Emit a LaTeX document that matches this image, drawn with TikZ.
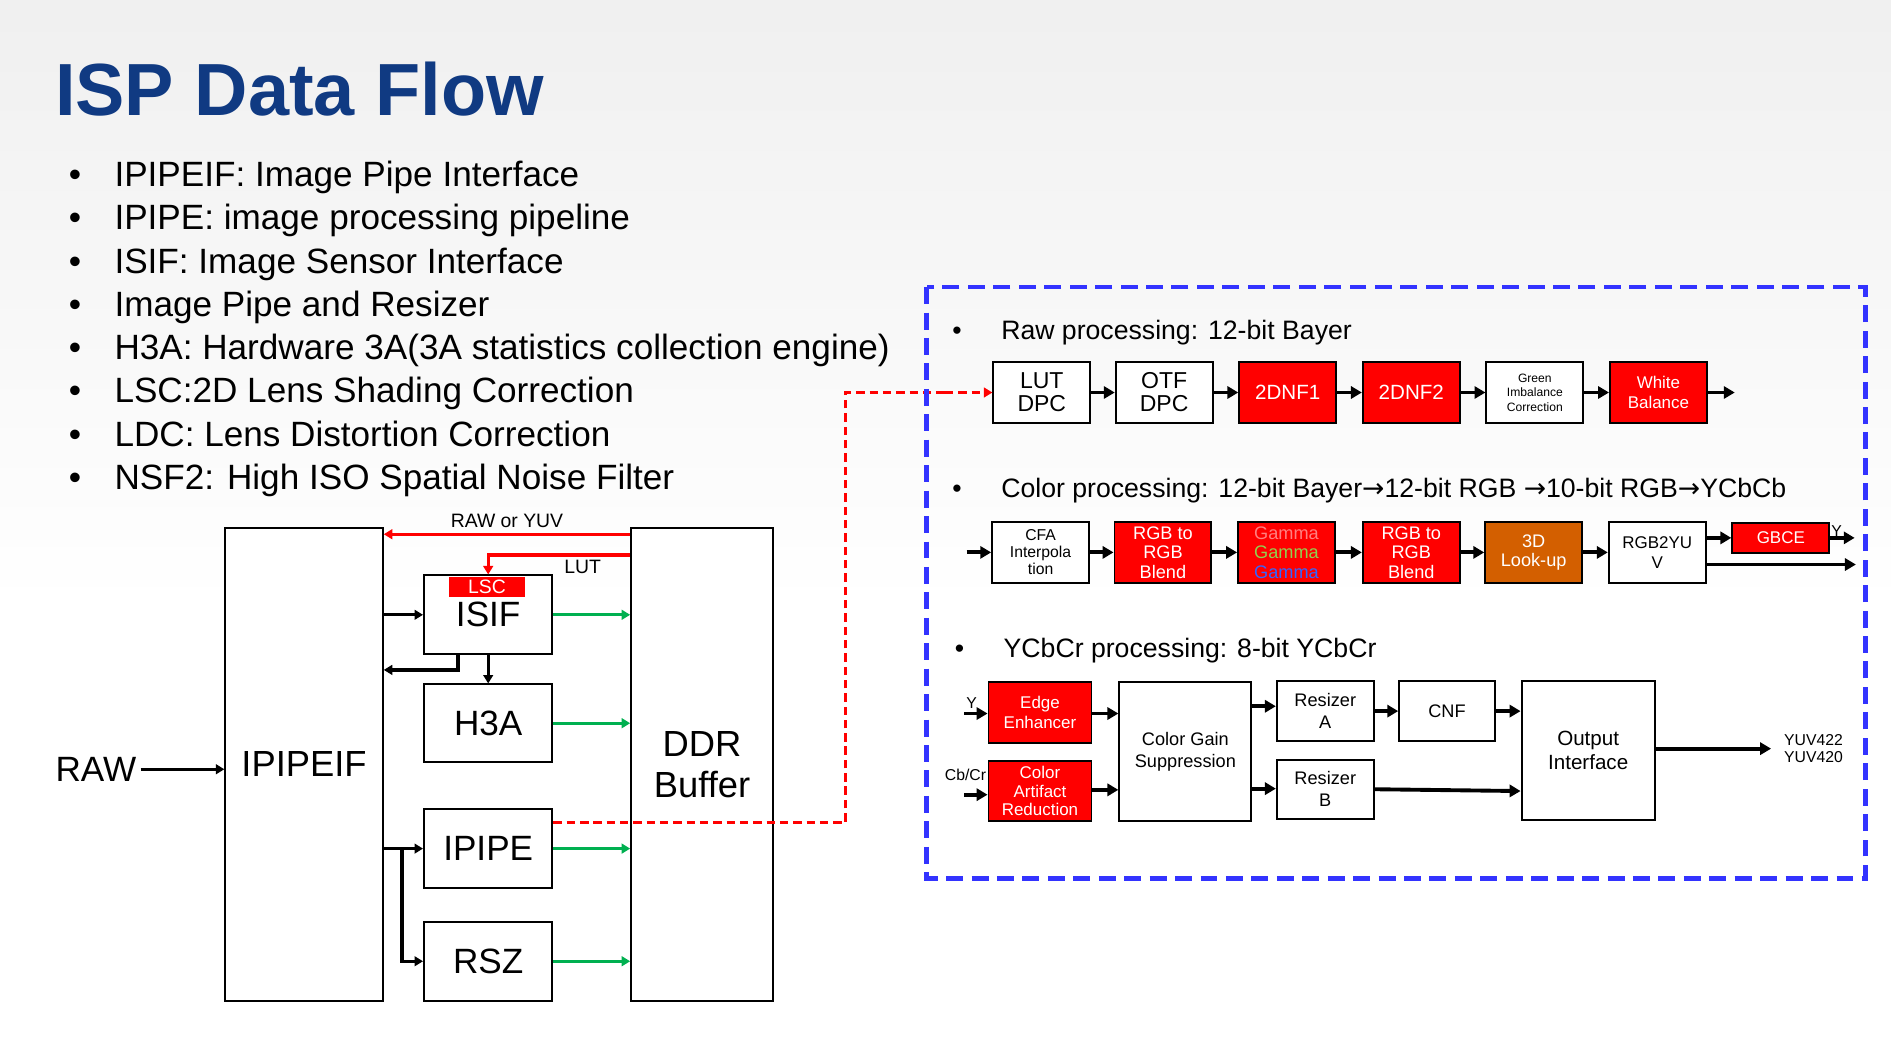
\documentclass[tikz,border=0pt]{standalone}
\usepackage{fontspec}
\setmainfont{Liberation Sans}
\newfontfamily\arrf{DejaVu Sans}
\usetikzlibrary{arrows.meta}
\definecolor{ttl}{HTML}{103A82}
\definecolor{bdash}{HTML}{3333FF}
\definecolor{grn}{HTML}{00B050}
\definecolor{org}{HTML}{D35F00}
\newcommand{\fz}[1]{\fontsize{#1}{#1}\selectfont}
\newcommand{\ra}{{\arrf →}}
\begin{document}
\begin{tikzpicture}[x=1pt,y=-1pt,
 box/.style={draw,line width=1.6pt,fill=white,align=center,inner sep=0pt},
 rbox/.style={box,fill=red,text=white},
 arr/.style={-{Triangle[length=9pt,width=10pt]},line width=3.2pt},
 larr/.style={-{Triangle[length=7pt,width=8pt]},line width=2.8pt},
 garr/.style={-{Triangle[length=7pt,width=8pt]},line width=2.8pt,grn},
 rarr/.style={-{Triangle[length=7pt,width=8pt]},line width=2.8pt,red},
 bl/.style={anchor=base west,font=\fz{29}},
 hd/.style={anchor=base west,font=\fz{22}}]
\useasboundingbox (0,0) rectangle (1561,871);
\shade[top color=gray!12,bottom color=white] (0,0) rectangle (1561,500);
\fill[white] (0,500) rectangle (1561,871);
% title
\node[anchor=base west,text=ttl,font=\bfseries\fz{61}] (title) at (42,95) {ISP Data Flow};
% bullets
\foreach \t [count=\i] in {IPIPEIF: Image Pipe Interface,IPIPE: image processing pipeline,ISIF: Image Sensor Interface,Image Pipe and Resizer,H3A: Hardware 3A(3A statistics collection engine),LSC:2D Lens Shading Correction,LDC: Lens Distortion Correction,NSF2: High ISO Spatial Noise Filter}{
 \node[bl] (b\i) at (91,{154+35.7*(\i-1)}) {\t};
 \node[anchor=base,font=\fz{29}] (d\i) at (62,{154+35.7*(\i-1)}) {\textbullet};
}
% left diagram
\node[box,minimum width=130,minimum height=390,font=\fz{30}] (ipipeif) at (251,631) {IPIPEIF};
\node[box,minimum width=117,minimum height=390,font=\fz{30}] (ddr) at (579.5,631) {DDR\\[4pt]Buffer};
\node[box,minimum width=106,minimum height=65,font=\fz{29}] (isif) at (403,507.5) {\raisebox{-6pt}{ISIF}};
\node[fill=red,text=white,minimum width=62,minimum height=17,inner sep=0,font=\fz{16}] (lsc) at (402,484.5) {LSC};
\node[box,minimum width=106,minimum height=64,font=\fz{29}] (h3a) at (403,597) {H3A};
\node[box,minimum width=106,minimum height=65,font=\fz{29}] (ipipe) at (403,700.5) {IPIPE};
\node[box,minimum width=106,minimum height=65,font=\fz{29}] (rsz) at (403,793.5) {RSZ};
\node[anchor=east,font=\fz{29}] (raw) at (116,635) {RAW};
\draw[larr] (raw.east) -- (ipipeif.west |- raw.east);
\draw[rarr] (ddr.west |- 0,441) -- (ipipeif.east |- 0,441) node[midway,above=1pt,black,font=\fz{16}] (rawyuv) {RAW or YUV};
\coordinate (lutc) at (403,458);
\draw[rarr] (ddr.west |- lutc) -- (lutc) -- (isif.north);
\node[font=\fz{16}] (lutl) at (481,468) {LUT};
\draw[larr] (ipipeif.east |- isif) -- (isif.west);
\coordinate (isb) at (378,553);
\draw[larr] (isif.south -| isb) -- (isb) -- (ipipeif.east |- isb);
\draw[larr] (isif.south) -- (h3a.north);
\draw[larr] (ipipeif.east |- ipipe) -- (ipipe.west);
\coordinate (br) at (332,700.5);
\draw[larr] (br) |- (rsz.west);
\foreach \n in {isif,h3a,ipipe,rsz}{\draw[garr] (\n.east) -- (ddr.west |- \n.east);}
% red dashed
\coordinate (rd1) at (698,679);
\coordinate (rd2) at (698,324);
\draw[red,line width=2.8pt,dash pattern=on 7pt off 4pt] (ipipe.east |- rd1) -- (rd1) -- (rd2) -- (780,324);
% blue dashed box
\draw[bdash,line width=3.8pt,dash pattern=on 14pt off 7pt] (765,237) rectangle (1540,725);
% raw processing
\node[hd] (h1) at (823,280) {Raw processing: 12-bit Bayer};
\node[anchor=base,font=\fz{22}] at (790,280) {\textbullet};
\node[box,minimum width=80,minimum height=50,font=\fz{19}] (lut) at (860,324) {LUT\\DPC};
\node[box,minimum width=80,minimum height=50,font=\fz{19}] (otf) at (961,324) {OTF\\DPC};
\node[rbox,minimum width=80,minimum height=50,font=\fz{17}] (n1) at (1063,324) {2DNF1};
\node[rbox,minimum width=80,minimum height=50,font=\fz{17}] (n2) at (1165,324) {2DNF2};
\node[box,minimum width=80,minimum height=50,font=\fz{10}] (gic) at (1267,324) {Green\\[2pt]Imbalance\\[2pt]Correction};
\node[rbox,minimum width=80,minimum height=50,font=\fz{14}] (wb) at (1369,324) {White\\[2pt]Balance};
\coordinate (wbo) at (1432,324);
\draw[red,line width=2.8pt,dash pattern=on 7pt off 4pt,-{Triangle[length=7pt,width=8pt]}] (780,324) -- (lut.west);
\draw[arr] (lut) -- (otf); \draw[arr] (otf) -- (n1); \draw[arr] (n1) -- (n2);
\draw[arr] (n2) -- (gic); \draw[arr] (gic) -- (wb); \draw[arr] (wb) -- (wbo);
% color processing
\node[hd] (h2) at (823,411) {Color processing: 12-bit Bayer\ra 12-bit RGB \ra 10-bit RGB\ra YCbCb};
\node[anchor=base,font=\fz{22}] at (790,411) {\textbullet};
\node[box,minimum width=80,minimum height=50,font=\fz{13}] (cfa) at (859,456) {CFA\\[1pt]Interpola\\[1pt]tion};
\node[rbox,minimum width=80,minimum height=50,font=\fz{15}] (rr1) at (960,456) {RGB to\\[1pt]RGB\\[1pt]Blend};
\node[rbox,minimum width=80,minimum height=50,font=\fz{15}] (gam) at (1062,456) {\textcolor[HTML]{FF8080}{Gamma}\\[1pt]\textcolor[HTML]{92D050}{Gamma}\\[1pt]\textcolor[HTML]{3366FF}{Gamma}};
\node[rbox,minimum width=80,minimum height=50,font=\fz{15}] (rr2) at (1165,456) {RGB to\\[1pt]RGB\\[1pt]Blend};
\node[box,fill=org,text=white,minimum width=80,minimum height=50,font=\fz{15}] (lk) at (1266,456) {3D\\[1pt]Look-up};
\node[box,minimum width=80,minimum height=50,font=\fz{14}] (yuv) at (1368,456) {RGB2YU\\[2pt]V};
\node[rbox,minimum width=80,minimum height=25,font=\fz{14}] (gbce) at (1470,444) {GBCE};
\coordinate (cin) at (798,456);
\draw[arr] (cin) -- (cfa.west);
\draw[arr] (cfa) -- (rr1); \draw[arr] (rr1) -- (gam); \draw[arr] (gam) -- (rr2);
\draw[arr] (rr2) -- (lk); \draw[arr] (lk) -- (yuv);
\draw[arr] (yuv.east |- gbce) -- (gbce.west);
\coordinate (go) at (1531,444);
\draw[arr] (gbce.east) -- (go);
\node[font=\fz{13}] (yl) at (1516,438) {Y};
\coordinate (yo) at (1532,466);
\draw[arr] (yuv.east |- yo) -- (yo);
% YCbCr
\node[hd] (h3) at (825,543) {YCbCr processing: 8-bit YCbCr};
\node[anchor=base,font=\fz{22}] at (792,543) {\textbullet};
\node[rbox,minimum width=85,minimum height=50,font=\fz{14}] (ee) at (858.5,588) {Edge\\[2pt]Enhancer};
\node[rbox,minimum width=85,minimum height=50,font=\fz{14}] (car) at (858.5,653) {Color\\[1pt]Artifact\\[1pt]Reduction};
\node[box,minimum width=109,minimum height=115,font=\fz{15}] (cgs) at (978.5,620.5) {Color Gain\\[3pt]Suppression};
\node[box,minimum width=80,minimum height=50,font=\fz{15}] (ra) at (1094,587) {Resizer\\[3pt]A};
\node[box,minimum width=79,minimum height=50,font=\fz{15}] (cnf) at (1194.5,587) {CNF};
\node[box,minimum width=110,minimum height=115,font=\fz{17}] (oi) at (1311,619.5) {Output\\[3pt]Interface};
\node[box,minimum width=80,minimum height=49,font=\fz{15}] (rb) at (1094,651.5) {Resizer\\[3pt]B};
\coordinate (yin) at (796,589);
\coordinate (cbin) at (796,656);
\node[font=\fz{13}] (ylab) at (802,580) {Y};
\node[font=\fz{13}] (cblab) at (797,640) {Cb/Cr};
\draw[arr] (yin) -- (ee.west |- yin);
\draw[arr] (cbin) -- (car.west |- cbin);
\draw[arr] (ee.east |- 0,589) -- (cgs.west |- 0,589);
\draw[arr] (car.east |- 0,652) -- (cgs.west |- 0,652);
\draw[arr] (cgs.east |- 0,583) -- (ra.west |- 0,583);
\draw[arr] (cgs.east |- 0,651) -- (rb.west |- 0,651);
\draw[arr] (ra) -- (cnf);
\draw[arr] (cnf) -- (oi.west |- cnf);
\draw[arr] (rb.east) -- (oi.west |- 0,653);
\coordinate (oo) at (1462,618);
\draw[arr] (oi.east |- oo) -- (oo);
\node[font=\fz{13},align=left] (yuvl) at (1497,618) {YUV422\\[1pt]YUV420};
\end{tikzpicture}
\end{document}
